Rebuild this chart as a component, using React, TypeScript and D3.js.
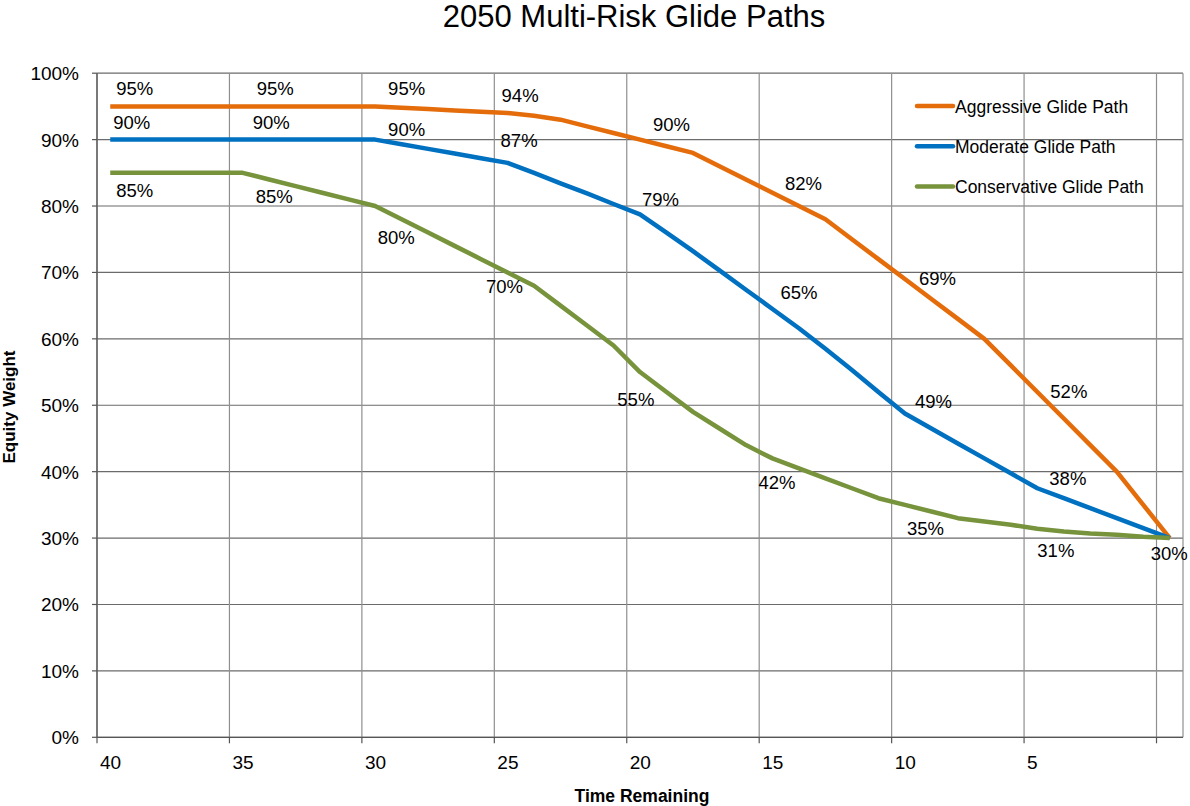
import React from "react";
import * as d3 from "d3";

// ---- data ----
const years: number[] = [40, 39, 38, 37, 36, 35, 34, 33, 32, 31, 30, 29, 28, 27, 26, 25, 24, 23, 22, 21, 20, 19, 18, 17, 16, 15, 14, 13, 12, 11, 10, 9, 8, 7, 6, 5, 4, 3, 2, 1, 0];
const aggressive: number[] = [95, 95, 95, 95, 95, 95, 95, 95, 95, 95, 95, 94.8, 94.6, 94.4, 94.2, 94, 93.6, 93, 92, 91, 90, 89, 88, 86, 84, 82, 80, 78, 75, 72, 69, 66, 63, 60, 56, 52, 48, 44, 40, 35, 30];
const moderate: number[] = [90, 90, 90, 90, 90, 90, 90, 90, 90, 90, 90, 89.3, 88.6, 87.9, 87.2, 86.5, 85, 83.4, 81.9, 80.3, 78.75, 76, 73.2, 70.3, 67.4, 64.5, 61.6, 58.5, 55.3, 52, 48.75, 46.5, 44.25, 42, 39.75, 37.5, 36, 34.5, 33, 31.5, 30];
const conservative: number[] = [85, 85, 85, 85, 85, 85, 84, 83, 82, 81, 80, 78, 76, 74, 72, 70, 68, 65, 62, 59, 55, 52, 49, 46.5, 44, 42, 40.5, 39, 37.5, 36, 35, 34, 33, 32.5, 32, 31.4, 31, 30.7, 30.5, 30.2, 30];
const seriesNames: string[] = ["Aggressive Glide Path", "Moderate Glide Path", "Conservative Glide Path"];
const xTickLabels: number[] = [40, 35, 30, 25, 20, 15, 10, 5];
const yTicks: number[] = [0, 10, 20, 30, 40, 50, 60, 70, 80, 90, 100];
const labelYearsAgg: number[] = [40, 35, 30, 25, 20, 15, 10, 5];
const labelYearsMod: number[] = [40, 35, 30, 25, 20, 15, 10, 5];
const labelYearsCon: number[] = [40, 35, 30, 25, 20, 15, 10, 5, 0];

// ---- layout / style ----
const W = 1190, H = 806;
const colors = ["#E46C0A", "#0070C0", "#77933C"];
const labelOffsetsAgg: [number, number][] = [[6, -11], [14, -11], [13, -11], [-6, -11.5], [13, -9], [12.5, -2.7], [14, 6], [13, 6]];
const labelOffsetsMod: [number, number][] = [[3, -11], [10, -11], [13, -3.6], [-7, -16], [2, -8], [8, -10], [10, -5.5], [12, -3.4]];
const labelOffsetsCon: [number, number][] = [[6, 24], [13, 30.5], [2.6, 37.7], [-21.6, 21], [-22.7, 33.6], [-14, 30.5], [2, 30], [0, 28], [-19, 22]];
const FONT = "'Liberation Sans', Arial, sans-serif";

export default function App() {
  const x = d3.scaleBand<number>().domain(years).range([97, 1183]).padding(0);
  const bw = x.bandwidth();
  const cx = (t: number) => (x(t) as number) + bw / 2;
  const y = d3.scaleLinear().domain([0, 100]).range([737.3, 73.2]);

  const series = [aggressive, moderate, conservative];
  const labelYears = [labelYearsAgg, labelYearsMod, labelYearsCon];
  const labelOffsets = [labelOffsetsAgg, labelOffsetsMod, labelOffsetsCon];

  const line = d3
    .line<number>()
    .x((_, i) => cx(years[i]))
    .y((d) => y(d));

  const gridYears = [40, 35, 30, 25, 20, 15, 10, 5, 0];
  const xRight = 1183;
  const xLeft = 97;

  return (
    <div style={{ position: "absolute", left: 0, top: 0 }}>
      <svg width={W} height={H} style={{ display: "block", background: "#fff" }} fontFamily={FONT}>
        {/* title */}
        <text x={634} y={27} textAnchor="middle" fontSize={31} fill="#000">
          2050 Multi-Risk Glide Paths
        </text>

        {/* horizontal gridlines */}
        {yTicks.map((v) => (
          <line key={"h" + v} x1={xLeft} x2={xRight} y1={y(v)} y2={y(v)} stroke="#6b6b6b" strokeWidth={1.2} />
        ))}
        {/* vertical gridlines */}
        {gridYears.map((t) => (
          <line key={"v" + t} x1={x(t)} x2={x(t)} y1={y(100)} y2={y(0)} stroke="#8f8f8f" strokeWidth={1.2} />
        ))}
        <line x1={xRight} x2={xRight} y1={y(100)} y2={y(0)} stroke="#8f8f8f" strokeWidth={1.2} />

        {/* axes */}
        <line x1={xLeft} x2={xLeft} y1={y(100)} y2={y(0)} stroke="#555" strokeWidth={1.3} />
        <line x1={xLeft} x2={xRight} y1={y(0)} y2={y(0)} stroke="#555" strokeWidth={1.3} />
        {yTicks.map((v) => (
          <g key={"yt" + v}>
            <line x1={xLeft - 5} x2={xLeft} y1={y(v)} y2={y(v)} stroke="#555" strokeWidth={1.2} />
            <text x={79} y={y(v) + 7} textAnchor="end" fontSize={19} fill="#000">
              {v}%
            </text>
          </g>
        ))}
        {gridYears.map((t) => (
          <line key={"xt" + t} x1={x(t)} x2={x(t)} y1={y(0)} y2={y(0) + 6} stroke="#555" strokeWidth={1.2} />
        ))}
        {xTickLabels.map((t) => (
          <text key={"xl" + t} x={(x(t) as number) + 3} y={768.5} fontSize={19} fill="#000">
            {t}
          </text>
        ))}

        {/* axis titles */}
        <text x={642} y={802} textAnchor="middle" fontSize={17.5} fontWeight="bold" fill="#000">
          Time Remaining
        </text>
        <text
          transform={`translate(14.5,407) rotate(-90)`}
          textAnchor="middle"
          fontSize={17}
          fontWeight="bold"
          fill="#000"
        >
          Equity Weight
        </text>

        {/* lines */}
        {series.map((s, i) => (
          <path key={"l" + i} d={line(s) || ""} fill="none" stroke={colors[i]} strokeWidth={4.5} strokeLinejoin="round" />
        ))}

        {/* data labels */}
        {series.map((s, i) =>
          labelYears[i].map((t, j) => {
            const idx = years.indexOf(t);
            const v = s[idx];
            const [dx, dy] = labelOffsets[i][j];
            return (
              <text key={`dl${i}-${t}`} x={cx(t) + dx} y={y(v) + dy} fontSize={18.5} fill="#000">
                {Math.round(v)}%
              </text>
            );
          })
        )}

        {/* legend */}
        {seriesNames.map((n, i) => {
          const ly = 106 + i * 40.3;
          return (
            <g key={"lg" + i}>
              <line x1={917} x2={953} y1={ly} y2={ly} stroke={colors[i]} strokeWidth={4.5} strokeLinecap="round" />
              <text x={955} y={ly + 6.5} fontSize={17.5} fill="#000">
                {n}
              </text>
            </g>
          );
        })}
      </svg>
    </div>
  );
}
